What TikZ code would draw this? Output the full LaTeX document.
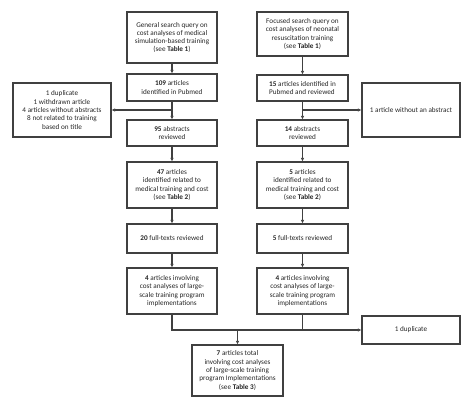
\documentclass[tikz,border=0pt]{standalone}
\usepackage{fontspec}
\setmainfont{Carlito}
\usetikzlibrary{arrows.meta}
\begin{document}
\begin{tikzpicture}[x=1pt,y=-1pt,
  box/.style={draw=black!75,line width=1.3pt,rectangle,inner sep=1pt,align=center,
    font=\fontsize{7.2}{8.3}\selectfont,text=black!85},
  arr/.style={draw=black!75,line width=1.1pt,-{Latex[length=3.4pt,width=3.4pt]}},
  ln/.style={draw=black!75,line width=1.1pt}]
\useasboundingbox (0,0) rectangle (474,408);
\node[box,minimum width=90pt,minimum height=51pt] (g1) at (172,37.5) {General search query on\\cost analyses of medical\\simulation-based training\\(see \textbf{Table 1})};
\node[box,minimum width=91pt,minimum height=44pt] (r1) at (302.5,34) {Focused search query on\\cost analyses of neonatal\\resuscitation training\\(see \textbf{Table 1})};
\node[box,minimum width=90pt,minimum height=27pt] (g2) at (172,87.5) {\textbf{109} articles\\identified in Pubmed};
\node[box,minimum width=91pt,minimum height=26pt,align=left] (r2) at (302.5,88) {\textbf{15} articles identified in\\Pubmed and reviewed};
\node[box,minimum width=98pt,minimum height=54pt] (lx) at (62,110) {1 duplicate\\1 withdrawn article\\4 articles without abstracts\\8 not related to training\\based on title};
\node[box,minimum width=98pt,minimum height=54pt] (rx) at (411,110) {1 article without an abstract};
\node[box,minimum width=90pt,minimum height=26pt] (g3) at (172,133) {\textbf{95} abstracts\\reviewed};
\node[box,minimum width=91pt,minimum height=26pt] (r3) at (302.5,133) {\textbf{14} abstracts\\reviewed};
\node[box,minimum width=90pt,minimum height=46pt] (g4) at (172,185) {\textbf{47} articles\\identified related to\\medical training and cost\\(see \textbf{Table 2})};
\node[box,minimum width=91pt,minimum height=46pt] (r4) at (302.5,185) {\textbf{5} articles\\identified related to\\medical training and cost\\(see \textbf{Table 2})};
\node[box,minimum width=90pt,minimum height=29pt] (g5) at (172,238.5) {\textbf{20} full-texts reviewed};
\node[box,minimum width=91pt,minimum height=29pt] (r5) at (302.5,238.5) {\textbf{5} full-texts reviewed};
\node[box,minimum width=90pt,minimum height=46pt] (g6) at (172,291) {\textbf{4} articles involving\\cost analyses of large-\\scale training program\\implementations};
\node[box,minimum width=91pt,minimum height=46pt] (r6) at (302.5,291) {\textbf{4} articles involving\\cost analyses of large-\\scale training program\\implementations};
\node[box,minimum width=98pt,minimum height=28pt] (dup) at (411,330) {1 duplicate};
\node[box,minimum width=91pt,minimum height=51pt] (fin) at (237.5,370.5) {\textbf{7} articles total\\involving cost analyses\\of large-scale training\\program Implementations\\(see \textbf{Table 3})};
\coordinate (jl) at (g2.south |- lx.east);
\coordinate (jr) at (r2.south |- rx.west);
\coordinate (jb) at (fin.north |- dup.west);
\draw[arr] (g1) -- (g2);
\draw[arr] (r1) -- (r2);
\draw[arr] (g2) -- (g3);
\draw[arr] (r2) -- (r3);
\draw[arr] (jl) -- (lx.east);
\draw[arr] (jr) -- (rx.west);
\draw[arr] (g3) -- (g4);
\draw[arr] (r3) -- (r4);
\draw[arr] (g4) -- (g5);
\draw[arr] (r4) -- (r5);
\draw[arr] (g5) -- (g6);
\draw[arr] (r5) -- (r6);
\draw[arr] (g6.south) -- (g6.south |- jb) -- (jb) -- (fin.north);
\draw[ln] (r6.south) -- (r6.south |- jb) -- (jb);
\draw[arr] (r6.south |- jb) -- (dup.west);
\end{tikzpicture}
\end{document}
